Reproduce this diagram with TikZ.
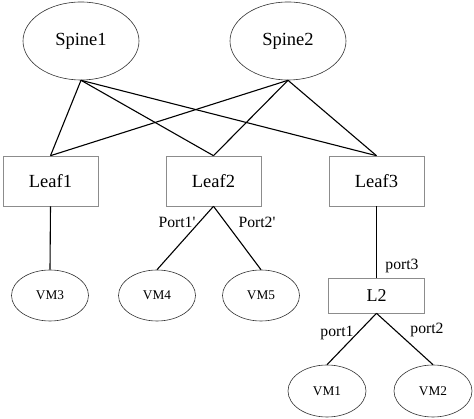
\documentclass[tikz,border=0pt]{standalone}
\usepackage{fontspec}
\setmainfont{Liberation Serif}
\usetikzlibrary{shapes.geometric}
\begin{document}
\begin{tikzpicture}[x=1pt,y=1pt,
  spinenode/.style={ellipse,draw=black!80,line width=0.6pt,inner sep=0pt,minimum width=116pt,minimum height=78pt,font=\fontsize{18.5}{20}\selectfont},
  leafnode/.style={rectangle,draw=black!45,line width=0.6pt,inner sep=0pt,minimum width=95pt,minimum height=50pt,font=\fontsize{18.5}{20}\selectfont},
  l2node/.style={rectangle,draw=black!45,line width=0.6pt,inner sep=0pt,minimum width=96pt,minimum height=35pt,font=\fontsize{18}{20}\selectfont},
  vmnode/.style={ellipse,draw=black!80,line width=0.6pt,inner sep=0pt,minimum width=77pt,minimum height=51pt,font=\fontsize{13.3}{15}\selectfont},
  portlabel/.style={inner sep=0pt,font=\fontsize{15.7}{17}\selectfont},
  link/.style={draw=black,line width=1.1pt}]
\useasboundingbox (0,0) rectangle (474,419);
\fill[white] (0,0) rectangle (474,419);
\node[spinenode] (spine1) at (81,378) {Spine1};
\node[spinenode] (spine2) at (288,378) {Spine2};
\node[leafnode] (leaf1) at (50.5,238) {Leaf1};
\node[leafnode] (leaf2) at (213.5,238) {Leaf2};
\node[leafnode] (leaf3) at (376.5,238) {Leaf3};
\node[vmnode] (vm3) at (50,123.5) {VM3};
\node[vmnode] (vm4) at (157,123.5) {VM4};
\node[vmnode] (vm5) at (261,123.5) {VM5};
\node[l2node] (l2) at (376.5,123.5) {L2};
\node[vmnode,minimum height=52pt,minimum width=78pt] (vm1) at (327,28) {VM1};
\node[vmnode,minimum height=52pt,minimum width=78pt] (vm2) at (433,28) {VM2};
\foreach \s in {spine1,spine2}{
  \foreach \l in {leaf1,leaf2,leaf3}{
    \draw[link] (\s.south) -- (\l.north);
  }
}
\draw[link] (leaf1.south) -- (vm3.north);
\draw[link] (leaf2.south) -- (vm4.north);
\draw[link] (leaf2.south) -- (vm5.north);
\draw[link] (leaf3.south) -- (l2.north);
\draw[link] (l2.south) -- (vm1.north);
\draw[link] (l2.south) -- (vm2.north);
\node[portlabel] (p1p) at (177,197) {Port1\textquotesingle};
\node[portlabel] (p2p) at (257,197) {Port2\textquotesingle};
\node[portlabel] (p3) at (402,153) {port3};
\node[portlabel] (p1) at (337,86) {port1};
\node[portlabel] (p2) at (427,89) {port2};
\end{tikzpicture}
\end{document}
